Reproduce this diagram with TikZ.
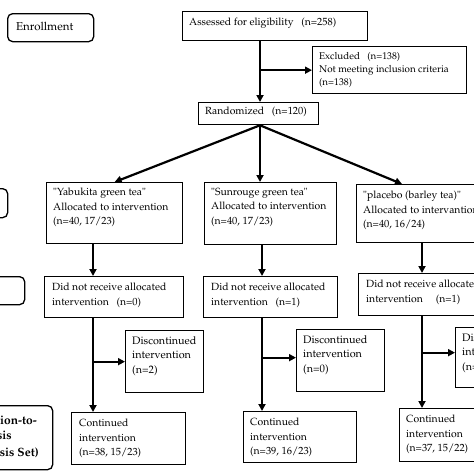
\documentclass[tikz,border=0pt]{standalone}
\usepackage[T1]{fontenc}
\usepackage{mathpazo}
\usetikzlibrary{arrows.meta}

\begin{document}
\begin{tikzpicture}[x=1pt,y=-1pt]
\tikzstyle{box}=[draw,line width=1.3pt,anchor=north west,inner sep=0pt]
\tikzstyle{rbox}=[box,rounded corners=5pt]
\tikzstyle{txt}=[anchor=north west,align=left,inner sep=0pt,font=\fontsize{10.4}{14.5}\selectfont]
\tikzstyle{stxt}=[txt,font=\fontsize{9.8}{13}\selectfont]
\tikzstyle{btxt}=[anchor=east,inner sep=0pt,font=\fontsize{12}{14}\selectfont\bfseries]
\tikzstyle{arr}=[line width=2.2pt,-{Triangle[length=7pt,width=7pt]}]
\useasboundingbox (0,0) rectangle (474,474);
\clip (0,0) rectangle (474,474);
% boxes
\node[rbox,minimum width=86,minimum height=28] (enroll) at (7,13) {};
\node[rbox,minimum width=67,minimum height=29] (alloc) at (-60,188) {};
\node[rbox,minimum width=84,minimum height=28] (follow) at (-60,276) {};
\node[rbox,minimum width=162,minimum height=64] (itt) at (-110,405) {};
\node[box,minimum width=185,minimum height=29] (assess) at (182,11) {};
\node[box,minimum width=154,minimum height=47] (excl) at (312,46) {};
\node[box,minimum width=120,minimum height=22] (rand) at (198,102) {};
\node[box,minimum width=136,minimum height=61] (yab) at (46,182) {};
\node[box,minimum width=132,minimum height=62] (sun) at (204,182) {};
\node[box,minimum width=160,minimum height=58] (pla) at (356,184) {};
\node[box,minimum width=139,minimum height=41] (dn1) at (44,276) {};
\node[box,minimum width=134,minimum height=41] (dn2) at (203,276) {};
\node[box,minimum width=160,minimum height=42] (dn3) at (358,273) {};
\node[box,minimum width=78,minimum height=62] (dc1) at (125,330) {};
\node[box,minimum width=88,minimum height=62] (dc2) at (296,329) {};
\node[box,minimum width=80,minimum height=60] (dc3) at (455,327) {};
\node[box,minimum width=114,minimum height=52] (co1) at (71,412) {};
\node[box,minimum width=113,minimum height=51] (co2) at (243,411) {};
\node[box,minimum width=120,minimum height=53] (co3) at (399,408) {};
% texts
\node[txt,font=\fontsize{11.5}{14}\selectfont] (enrolltxt) at ([shift={(9,9)}]enroll.north west) {Enrollment};
\node[btxt] (itt1) at (37,420) {Intention-to-};
\node[btxt] (itt2) at (12,437) {treat analysis};
\node[btxt] (itt3) at (39,454) {(Full Analysis Set)};
\node[txt] (assesstxt) at ([shift={(7,7)}]assess.north west) {Assessed for eligibility\ \ \ (n=258)};
\node[stxt] (excltxt) at ([shift={(7,6)}]excl.north west) {Excluded\ \ \ (n=138)\\Not meeting inclusion criteria\\(n=138)};
\node[txt] (randtxt) at ([shift={(7,5)}]rand.north west) {Randomized\ \ \ (n=120)};
\node[txt] (yabtxt) at ([shift={(7,6)}]yab.north west) {"Yabukita green tea"\\Allocated to intervention\\(n=40, 17/23)};
\node[txt] (suntxt) at ([shift={(7,6)}]sun.north west) {"Sunrouge green tea"\\Allocated to intervention\\(n=40, 17/23)};
\node[txt] (platxt) at ([shift={(7,7)}]pla.north west) {"placebo (barley tea)"\\Allocated to intervantion\\(n=40, 16/24)};
\node[txt] (dn1txt) at ([shift={(8,7)}]dn1.north west) {Did not receive allocated\\intervention\ \ \ (n=0)};
\node[txt] (dn2txt) at ([shift={(8,7)}]dn2.north west) {Did not receive allocated\\intervention\ \ \ (n=1)};
\node[txt] (dn3txt) at ([shift={(8,7)}]dn3.north west) {Did not receive allocated\\intervention\ \ \ \ \ (n=1)};
\node[txt,font=\fontsize{10.8}{14.5}\selectfont] (dc1txt) at ([shift={(7,6)}]dc1.north west) {Discontinued\\intervention\\(n=2)};
\node[txt,font=\fontsize{10.8}{14.5}\selectfont] (dc2txt) at ([shift={(7,6)}]dc2.north west) {Discontinued\\intervention\\(n=0)};
\node[txt,font=\fontsize{10.8}{14.5}\selectfont] (dc3txt) at ([shift={(7,6)}]dc3.north west) {Discontinued\\intervention\\(n=1)};
\node[txt] (co1txt) at ([shift={(8,7)}]co1.north west) {Continued\\intervention\\(n=38, 15/23)};
\node[txt] (co2txt) at ([shift={(7,7)}]co2.north west) {Continued\\intervention\\(n=39, 16/23)};
\node[txt] (co3txt) at ([shift={(7,7)}]co3.north west) {Continued\\intervention\\(n=37, 15/22)};
% columns
\coordinate (c0) at (260,0);
\coordinate (c1) at (93,0);
\coordinate (c2) at (262,0);
\coordinate (c3) at (422,0);
% arrows
\draw[arr] (assess.south -| c0) -- (rand.north -| c0);
\draw[arr] (excl.west -| c0) -- (excl.west);
\draw[arr] (rand.south -| c0) -- (yab.north);
\draw[arr] (rand.south -| c0) -- (sun.north -| c0);
\draw[arr] (rand.south -| c0) -- ([xshift=46]pla.north west);
\draw[arr] (yab.south -| c1) -- (dn1.north -| c1);
\draw[arr] (sun.south -| c2) -- (dn2.north -| c2);
\draw[arr] (pla.south -| c3) -- (dn3.north -| c3);
\draw[arr] (dn1.south -| c1) -- (co1.north -| c1);
\draw[arr] (dn2.south -| c2) -- (co2.north -| c2);
\draw[arr] (dn3.south -| c3) -- (co3.north -| c3);
\draw[arr] (dc1.west -| c1) -- (dc1.west);
\draw[arr] ([yshift=3]dc2.west -| c2) -- ([yshift=3]dc2.west);
\draw[arr] ([yshift=5]dc3.west -| c3) -- ([yshift=5]dc3.west);
\end{tikzpicture}
\end{document}
